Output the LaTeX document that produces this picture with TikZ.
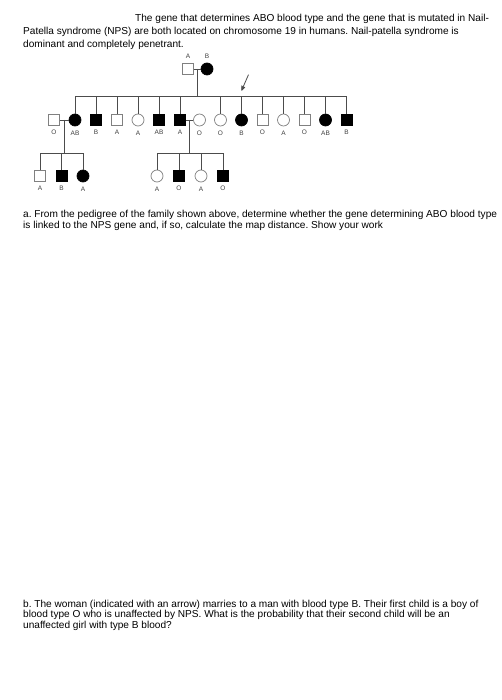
\documentclass[tikz,border=0pt]{standalone}
\usepackage{fontspec}
\setmainfont{Liberation Sans}
\usetikzlibrary{arrows,calc}
\frenchspacing

\tikzset{
  male/.style={rectangle,draw=black!50,line width=0.7pt,minimum size=11pt,inner sep=0pt},
  female/.style={circle,draw=black!50,line width=0.7pt,minimum size=12pt,inner sep=0pt},
  aff/.style={fill=black,draw=black},
  kin/.style={draw=black!70,line width=0.8pt},
  every label/.style={font=\fontsize{6.5}{7}\selectfont,text=black!75,inner sep=0pt},
  txt/.style={font=\fontsize{10.1}{13.4}\selectfont,align=left,inner sep=0pt,anchor=north west}
}

\begin{document}
\begin{tikzpicture}[x=1pt,y=-1pt,>=stealth',node distance=21pt,label distance=4pt]
\useasboundingbox (0,0) rectangle (502,700);

% define the question texts
  \node[txt] (intro) at (23,13.5) {\hspace*{112pt}The gene that determines ABO blood type and the gene that is mutated in Nail-\\
    Patella syndrome (NPS) are both located on chromosome 19 in humans. Nail-patella syndrome is\\
    dominant and completely penetrant.};
  \node[txt,font=\fontsize{10.1}{11}\selectfont] (qa) at (23,210) {a. From the pedigree of the family shown above, determine whether the gene determining ABO blood type\\
    is linked to the NPS gene and, if so, calculate the map distance. Show your work};
  \node[txt,font=\fontsize{10.1}{10.7}\selectfont] (qb) at (23,599.5) {b. The woman (indicated with an arrow) marries to a man with blood type B. Their first child is a boy of\\
    blood type O who is unaffected by NPS. What is the probability that their second child will be an\\
    unaffected girl with type B blood?};

% define the first generation
  \node[male,label=above:A]         (g1) at (188,69)            {};
  \node[female,aff,label=above:B]   (g2) [right of=g1,node distance=19pt] {};

% define the second generation
  \node[male,label=below:O]         (s1) at (54,120)            {};
  \node[female,aff,label=below:AB]  (c1) [right of=s1]          {};
  \node[male,aff,label=below:B]     (c2) [right of=c1]          {};
  \node[male,label=below:A]         (c3) [right of=c2]          {};
  \node[female,label=below:A]       (c4) [right of=c3]          {};
  \node[male,aff,label=below:AB]    (c5) [right of=c4]          {};
  \node[male,aff,label=below:A]     (c6) [right of=c5]          {};
  \node[female,label=below:O]       (s2) [right of=c6,node distance=19.5pt] {};
  \node[female,label=below:O]       (c7) [right of=s2]          {};
  \node[female,aff,label=below:B]   (c8) [right of=c7]          {};
  \node[male,label=below:O]         (c9) [right of=c8]          {};
  \node[female,label=below:A]       (c10) [right of=c9]         {};
  \node[male,label=below:O]         (c11) [right of=c10]        {};
  \node[female,aff,label=below:AB]  (c12) [right of=c11]        {};
  \node[male,aff,label=below:B]     (c13) [right of=c12]        {};

% define the third generation
  \node[male,label=below:A]         (k1) at (40,176)            {};
  \node[male,aff,label=below:B]     (k2) [right of=k1,node distance=21.5pt] {};
  \node[female,aff,label=below:A]   (k3) [right of=k2,node distance=21.5pt] {};
  \node[female,label=below:A]       (m1) at (157,176)           {};
  \node[male,aff,label=below:O]     (m2) [right of=m1,node distance=22pt] {};
  \node[female,label=below:A]       (m3) [right of=m2,node distance=22pt] {};
  \node[male,aff,label=below:O]     (m4) [right of=m3,node distance=22pt] {};

% define the links
  \coordinate (gd) at ($(g1)!0.5!(g2)$);
  \coordinate (gs) at (gd |- 0,96);
  \coordinate (d1) at ($(s1)!0.5!(c1)$);
  \coordinate (e1) at (d1 |- 0,153);
  \coordinate (d2) at ($(c6)!0.5!(s2)$);
  \coordinate (e2) at (d2 |- 0,153);

  \draw[kin] (g1) -- (g2) (gd) -- (gs);
  \draw[kin] (c1 |- gs) -- (c13 |- gs);
  \foreach \i in {1,...,13}
    \draw[kin] (c\i) -- (c\i |- gs);

  \draw[kin] (s1) -- (c1) (d1) -- (e1) (k1 |- e1) -- (k3 |- e1);
  \foreach \i in {1,2,3}
    \draw[kin] (k\i) -- (k\i |- e1);

  \draw[kin] (c6) -- (s2) (d2) -- (e2) (m1 |- e2) -- (m4 |- e2);
  \foreach \i in {1,2,3,4}
    \draw[kin] (m\i) -- (m\i |- e2);

% the arrow to the woman
  \coordinate (tip) at ($(c8.north)+(0,-23)$);
  \coordinate (tail) at ($(tip)+(7,-16)$);
  \draw[kin,->] (tail) -- (tip);

\end{tikzpicture}
\end{document}
